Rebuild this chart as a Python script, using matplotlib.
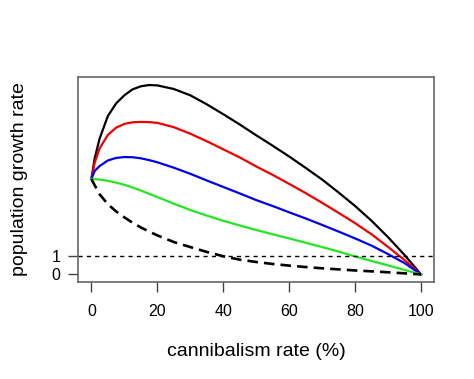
import matplotlib
matplotlib.use('Agg')
import matplotlib.pyplot as plt

plt.rcParams['font.family'] = ['Liberation Sans', 'DejaVu Sans']

# cannibalism rate (%) and growth rates
rate = [0, 1, 2.5, 5, 7.5, 10, 12.5, 15, 17.5, 20, 25, 30, 35, 40, 45, 50,
        55, 60, 65, 70, 75, 80, 85, 90, 95, 100]
growth_black = [5.3, 6.45, 7.55, 8.8, 9.5, 9.95, 10.28, 10.45, 10.52, 10.5,
                10.3, 9.95, 9.45, 8.9, 8.33, 7.73, 7.15, 6.55, 5.92, 5.27,
                4.55, 3.8, 2.98, 2.07, 1.08, 0]
growth_red = [5.3, 6.2, 7.0, 7.75, 8.15, 8.36, 8.45, 8.47, 8.46, 8.42,
              8.18, 7.82, 7.4, 6.95, 6.5, 6.0, 5.53, 5.03, 4.52, 3.98,
              3.42, 2.85, 2.23, 1.53, 0.8, 0]
growth_blue = [5.3, 5.75, 6.02, 6.33, 6.47, 6.52, 6.51, 6.45, 6.35, 6.23,
               5.93, 5.59, 5.22, 4.86, 4.5, 4.13, 3.8, 3.45, 3.11, 2.75,
               2.38, 2.0, 1.6, 1.13, 0.63, 0]
growth_green = [5.3, 5.29, 5.27, 5.2, 5.1, 4.98, 4.83, 4.66, 4.48, 4.3,
                3.93, 3.58, 3.27, 2.98, 2.72, 2.47, 2.23, 2.0, 1.76, 1.52,
                1.27, 1.0, 0.75, 0.5, 0.25, 0]
growth_dashed = [5.3, 4.95, 4.45, 3.9, 3.5, 3.17, 2.87, 2.61, 2.38, 2.17,
                 1.8, 1.52, 1.25, 1.01, 0.82, 0.69, 0.58, 0.49, 0.41, 0.34,
                 0.28, 0.22, 0.17, 0.12, 0.06, 0]

x_ticks = [0, 20, 40, 60, 80, 100]
y_ticks = [0, 1]

fig = plt.figure(figsize=(4.74, 3.79), dpi=100)
ax = fig.add_axes([0.165, 0.256, 0.751, 0.541])

ax.plot(rate, growth_black, color='black', lw=1.6)
ax.plot(rate, growth_red, color='#ee0000', lw=1.6)
ax.plot(rate, growth_blue, color='#0000ee', lw=1.6)
ax.plot(rate, growth_green, color='#22e622', lw=1.6)
ax.plot(rate, growth_dashed, color='black', lw=1.9, dashes=(4, 2.3))
ax.axhline(1, color='black', lw=1.0, dashes=(3, 3))

ax.set_xlim(-4, 104)
ax.set_ylim(-0.42, 10.97)
ax.set_xticks(x_ticks)
ax.set_yticks(y_ticks)

for s in ax.spines.values():
    s.set_color('#666666')
    s.set_linewidth(1.2)

ax.tick_params(axis='both', direction='out', length=7, width=1.0,
               color='#444444', labelsize=11.5)
ax.tick_params(axis='x', pad=9)
ax.tick_params(axis='y', pad=6)

ax.set_xlabel('cannibalism rate (%)', fontsize=14, labelpad=17)
ax.set_ylabel('population growth rate', fontsize=14, labelpad=17)

fig.savefig('out.png', dpi=100)
